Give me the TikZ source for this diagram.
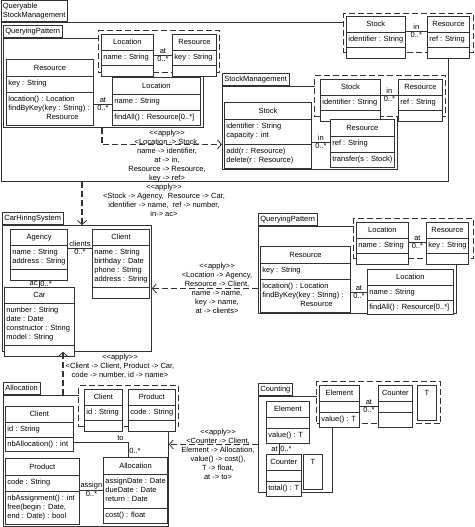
\documentclass[tikz,border=0pt]{standalone}
\usepackage{fontspec}
\setmainfont{Liberation Sans}
\usepackage{tikz}
\usetikzlibrary{arrows.meta,shapes.multipart,calc}
\colorlet{lineColor}{black!80}
\newcommand{\hd}{\rule[-2.5pt]{0pt}{10pt}}

\begin{document}
\begin{tikzpicture}[x=1pt,y=-1pt,
every node/.style={font=\fontsize{7.5}{9}\selectfont},
umlclass/.style={draw=lineColor,fill=white,line width=0.8pt,anchor=north west,
    rectangle split,rectangle split parts=3,rectangle split part align={center,left,left},
    align=left,inner xsep=2pt,inner ysep=2.5pt},
typebox/.style={draw=lineColor,fill=white,line width=0.8pt,anchor=north west,
    minimum width=19pt,text height=7pt,text depth=22pt,inner ysep=3pt,inner xsep=0pt},
pkg/.style={draw=lineColor,line width=0.8pt,anchor=north west,inner sep=0pt},
pkgtab/.style={draw=lineColor,line width=0.8pt,anchor=south west,align=left,inner xsep=2pt,inner ysep=1.5pt},
params/.style={draw=lineColor,fill=white,line width=1.2pt,dash pattern=on 6pt off 3pt,
    anchor=north west,inner sep=0pt},
assoc/.style={draw=lineColor,line width=0.8pt},
role/.style={inner sep=1pt},
apply/.style={draw=lineColor,line width=1.2pt,dash pattern=on 6pt off 3pt,
    -{Straight Barb[length=4pt,width=9pt,line width=0.8pt]}},
applytext/.style={align=center,inner sep=0pt}
]
\useasboundingbox[fill=white] (0,0) rectangle (474,527);

% Queryable StockManagement
\node[pkg,minimum width=447.5,minimum height=159] (qsmBody) at (0.5,22) {};
\node[pkgtab] (qsmTab) at (qsmBody.north west) {\strut Queryable\\StockManagement\strut};
\node[params,minimum width=130,minimum height=39] (qsmParams) at (343,13) {};
\node[umlclass,minimum width=56] (qsmStock) at (346,16) {\hd Stock\nodepart{two}\strut identifier : String\strut\nodepart{three}};
\node[umlclass,minimum width=42] (qsmRes) at (427,16) {\hd Resource\nodepart{two}\strut ref : String\strut\nodepart{three}};
\draw[assoc] (qsmStock.east |- 0,31) -- node[role,above] (qsmIn) {in} node[role,below] (qsmMult) {0..*} (qsmRes.west |- 0,31);

% QueryingPattern
\node[pkg,minimum width=200,minimum height=89] (qpBody) at (3,38) {};
\node[pkgtab] (qpTab) at (qpBody.north west) {\strut QueryingPattern};
\node[params,minimum width=121,minimum height=42] (qpParams) at (98,30) {};
\node[umlclass,minimum width=52] (qpLocP) at (101,34) {\hd Location\nodepart{two}\strut name : String\strut\nodepart{three}};
\node[umlclass,minimum width=44] (qpResP) at (172,34) {\hd Resource\nodepart{two}\strut key : String\strut\nodepart{three}};
\draw[assoc] (qpLocP.east |- 0,55) -- node[role,above] (qpAtP) {at} node[role,below] (qpMultP) {0..*} (qpResP.west |- 0,55);
\node[umlclass,minimum width=87,inner ysep=3pt] (qpRes) at (6,59) {\hd Resource\nodepart{two}\strut key : String\strut
    \nodepart{three}\strut location() : Location\\findByKey(key : String) :\\\hspace*{38pt}Resource\strut};
\node[umlclass,minimum width=88,inner ysep=3pt] (qpLoc) at (112,77) {\hd Location\nodepart{two}\strut name : String\strut
    \nodepart{three}\strut findAll() : Resource[0..*]\strut};
\draw[assoc] (qpRes.east |- 0,104) -- node[role,above] (qpAt) {at} node[role,below] (qpMult) {0..*} (qpLoc.west |- 0,104);

% StockManagement
\node[pkg,minimum width=175,minimum height=83] (smBody) at (222,86) {};
\node[pkgtab] (smTab) at (smBody.north west) {\strut StockManagement};
\node[params,minimum width=131,minimum height=41] (smParams) at (314,75) {};
\node[umlclass,minimum width=60] (smStockP) at (320,79) {\hd Stock\nodepart{two}\strut identifier : String\strut\nodepart{three}};
\node[umlclass,minimum width=44] (smResP) at (398,79) {\hd Resource\nodepart{two}\strut ref : String\strut\nodepart{three}};
\draw[assoc] (smStockP.east |- 0,95) -- node[role,above] (smInP) {in} node[role,below] (smMultP) {0..*} (smResP.west |- 0,95);
\node[umlclass,minimum width=87,inner ysep=3pt] (smStock) at (224,102) {\hd Stock\nodepart{two}\strut identifier : String\\capacity : int\strut
    \nodepart{three}\strut add(r : Resource)\\delete(r : Resource)\strut};
\node[umlclass,minimum width=63,inner ysep=3pt] (smRes) at (330,119) {\hd Resource\nodepart{two}\strut ref : String\strut
    \nodepart{three}\strut transfer(s : Stock)\strut};
\draw[assoc] (smStock.east |- 0,142) -- node[role,above] (smIn) {in} node[role,below] (smMult) {0..*} (smRes.west |- 0,142);

\draw[apply] (qpBody.south -| 102,0) |- ($(smBody.west)+(0,16.5)$);
\node[applytext] (apply1) at (167,156) {<{}<apply>{}>\\<Location -> Stock,\\name -> identifier,\\at -> in,\\Resource -> Resource,\\key -> ref>};

% CarHiringSystem
\node[pkg,minimum width=149,minimum height=126] (chsBody) at (2,225) {};
\node[pkgtab] (chsTab) at (chsBody.north west) {\strut CarHiringSystem};
\node[umlclass,minimum width=57] (agency) at (10,229) {\hd Agency\nodepart{two}\strut name : String\\address : String\strut\nodepart{three}};
\node[umlclass,minimum width=57] (client) at (92,229) {\hd Client\nodepart{two}\strut name : String\\birthday : Date\\phone : String\\address : String\strut\nodepart{three}};
\node[umlclass,minimum width=70] (car) at (4,287) {\hd Car\nodepart{two}\strut number : String\\date : Date\\constructor : String\\model : String\strut\nodepart{three}};
\draw[assoc] (agency.east |- 0,248) -- node[role,above] (clientsRole) {clients} node[role,below] (clientsMult) {0..*} (client.west |- 0,248);
\draw[assoc] (agency.south) -- node[role,left] (acRole) {ac} node[role,right] (acMult) {0..*} (agency.south |- car.north);

\draw[apply] (qsmBody.south -| 82,0) -- (chsBody.north -| 82,0);
\node[applytext] (apply2) at (164,200) {<{}<apply>{}>\\<Stock -> Agency,\ \ Resource -> Car,\\identifier -> name,\ \ ref -> number,\\in-> ac>};

% QueryingPattern (second)
\node[pkg,minimum width=198,minimum height=87] (mqpBody) at (258,226) {};
\node[pkgtab] (mqpTab) at (mqpBody.north west) {\strut QueryingPattern};
\node[params,minimum width=120,minimum height=40] (mqpParams) at (353,218) {};
\node[umlclass,minimum width=52] (mqpLocP) at (356,222) {\hd Location\nodepart{two}\strut name : String\strut\nodepart{three}};
\node[umlclass,minimum width=42] (mqpResP) at (426,222) {\hd Resource\nodepart{two}\strut key : String\strut\nodepart{three}};
\draw[assoc] (mqpLocP.east |- 0,242) -- node[role,above] (mqpAtP) {at} node[role,below] (mqpMultP) {0..*} (mqpResP.west |- 0,242);
\node[umlclass,minimum width=90,inner ysep=3pt] (mqpRes) at (260,246) {\hd Resource\nodepart{two}\strut key : String\strut
    \nodepart{three}\strut location() : Location\\findByKey(key : String) :\\\hspace*{38pt}Resource\strut};
\node[umlclass,minimum width=86] (mqpLoc) at (367,269) {\hd Location\nodepart{two}\strut name : String\strut
    \nodepart{three}\strut findAll() : Resource[0..*]\strut};
\draw[assoc] (mqpRes.east |- 0,292) -- node[role,above] (mqpAt) {at} node[role,below] (mqpMult) {0..*} (mqpLoc.west |- 0,292);

\draw[apply] (mqpBody.west |- chsBody.east) -- (chsBody.east);
\node[applytext] (apply3) at (217,288) {<{}<apply>{}>\\<Location -> Agency,\\Resource -> Client,\\name -> name,\\key -> name,\\at -> clients>};

% Allocation
\node[pkg,minimum width=165,minimum height=131] (allocBody) at (3,395) {};
\node[pkgtab] (allocTab) at (allocBody.north west) {\strut Allocation};
\node[params,minimum width=100,minimum height=41] (allocParams) at (78,385) {};
\node[umlclass,minimum width=38] (allocClientP) at (84,389) {\hd Client\nodepart{two}\strut id : String\strut\nodepart{three}};
\node[umlclass,minimum width=47] (allocProductP) at (128,389) {\hd Product\nodepart{two}\strut code : String\strut\nodepart{three}};
\node[umlclass,minimum width=68] (allocClient) at (5,406) {\hd Client\nodepart{two}\strut id : String\strut
    \nodepart{three}\strut nbAllocation() : int\strut};
\node[umlclass,minimum width=74,inner ysep=3pt] (product) at (5,458) {\hd Product\nodepart{two}\strut code : String\strut
    \nodepart{three}\strut nbAssignment() : int\\free(begin : Date,\\end : Date) : bool\strut};
\node[umlclass,minimum width=62,inner ysep=3pt] (allocation) at (103,457) {\hd Allocation\nodepart{two}\strut assignDate : Date\\dueDate : Date\\return : Date\strut
    \nodepart{three}\strut cost() : float\strut};
\draw[assoc] (allocClient.east |- 0,442) -| node[role,above,pos=0.43] (toRole) {to} node[role,right,pos=0.8] (toMult) {0..*} (allocation.north -| 128,0);
\draw[assoc] (product.east |- 0,490) -- node[role,above] (assignRole) {assign} node[role,below] (assignMult) {0..*} (allocation.west |- 0,490);

\draw[apply] (allocBody.north -| 63,0) -- (chsBody.south -| 63,0);
\node[applytext] (apply4) at (120,366) {<{}<apply>{}>\\<Client -> Client, Product -> Car,\\code -> number, id -> name>};

% Counting
\node[pkg,minimum width=74,minimum height=96] (cntBody) at (258,396) {};
\node[pkgtab] (cntTab) at (cntBody.north west) {\strut Counting};
\node[params,minimum width=124,minimum height=42] (cntParams) at (316,381) {};
\node[umlclass,minimum width=40] (cntElementP) at (319,385) {\hd Element\nodepart{two}\nodepart{three}\strut value() : T\strut};
\node[umlclass,minimum width=34] (cntCounterP) at (378,385) {\hd Counter\nodepart{two}\nodepart{three}\strut};
\node[typebox] (cntTP) at (417,385) {T};
\draw[assoc] (cntElementP.east |- 0,406) -- node[role,above] (cntAtP) {at} node[role,below] (cntMultP) {0..*} (cntCounterP.west |- 0,406);
\node[umlclass,minimum width=43] (element) at (266,401) {\hd Element\nodepart{two}\nodepart{three}\strut value() : T\strut};
\node[umlclass,minimum width=33] (counter) at (266,454) {\hd Counter\nodepart{two}\nodepart{three}\strut total() : T\strut};
\node[typebox] (cntT) at (303,454) {T};
\draw[assoc] (element.south -| 279,0) -- node[role,left] (cntAt) {at} node[role,right] (cntMult) {0..*} (counter.north -| 279,0);

\draw[apply] (cntBody.west) -- (allocBody.east |- cntBody.west);
\node[applytext] (apply5) at (218,454) {<{}<apply>{}>\\<Counter -> Client,\\Element -> Allocation,\\value() -> cost(),\\T -> float,\\at -> to>};
\end{tikzpicture}
\end{document}
